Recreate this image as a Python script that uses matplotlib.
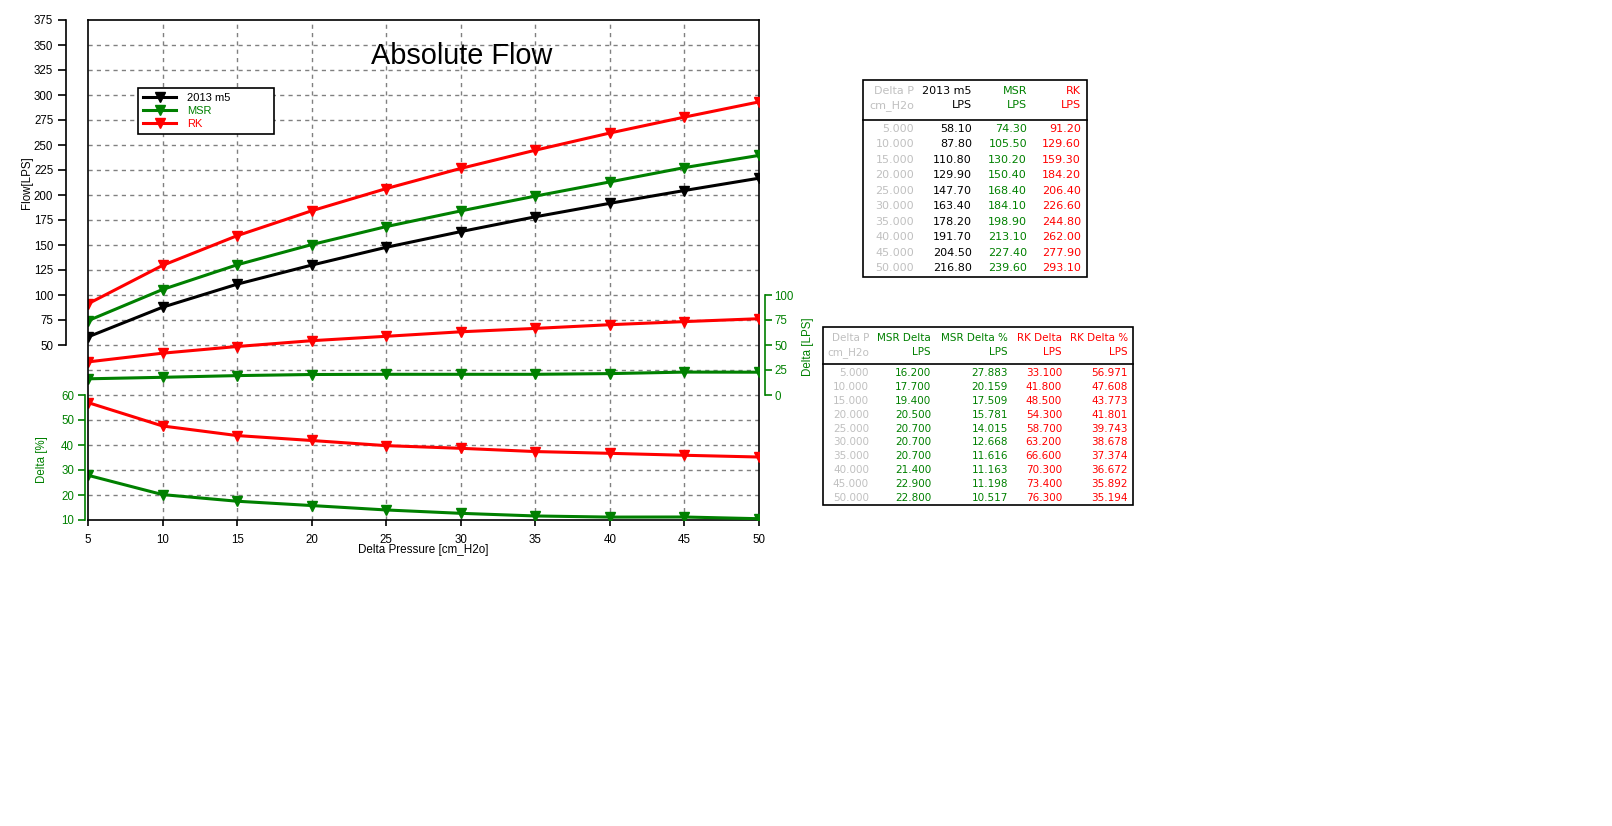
import matplotlib
matplotlib.use('Agg')
import matplotlib.pyplot as plt
from matplotlib.lines import Line2D
from matplotlib.patches import Rectangle

# ---------------- data ----------------
pressure = [5, 10, 15, 20, 25, 30, 35, 40, 45, 50]
flow_2013_m5 = [58.10, 87.80, 110.80, 129.90, 147.70, 163.40, 178.20, 191.70, 204.50, 216.80]
flow_msr = [74.30, 105.50, 130.20, 150.40, 168.40, 184.10, 198.90, 213.10, 227.40, 239.60]
flow_rk = [91.20, 129.60, 159.30, 184.20, 206.40, 226.60, 244.80, 262.00, 277.90, 293.10]
msr_delta_lps = [16.2, 17.7, 19.4, 20.5, 20.7, 20.7, 20.7, 21.4, 22.9, 22.8]
msr_delta_pct = [27.883, 20.159, 17.509, 15.781, 14.015, 12.668, 11.616, 11.163, 11.198, 10.517]
rk_delta_lps = [33.1, 41.8, 48.5, 54.3, 58.7, 63.2, 66.6, 70.3, 73.4, 76.3]
rk_delta_pct = [56.971, 47.608, 43.773, 41.801, 39.743, 38.678, 37.374, 36.672, 35.892, 35.194]

flow_ticks = list(range(50, 376, 25))
lps_ticks = [0, 25, 50, 75, 100]
pct_ticks = [10, 20, 30, 40, 50, 60]

BLACK = 'black'
GREEN = '#008000'
RED = '#ff0000'
GRAY = '#c0c0c0'
GRID = '#808080'

AX_FONT = 'Liberation Sans'
TB_FONT = 'DejaVu Sans'

W, H = 1612, 826
fig = plt.figure(figsize=(W / 100, H / 100), dpi=100)
fig.patch.set_facecolor('white')


def fx(x):
    return x / W


def fy(y):
    return 1 - y / H


rect = [fx(88), fy(520), 671 / W, 500 / H]

ax = fig.add_axes(rect)
ax_pct = fig.add_axes(rect, sharex=ax)
ax_lps = fig.add_axes(rect, sharex=ax)
for a in (ax_pct, ax_lps):
    a.set_facecolor('none')

ax.set_xlim(5, 50)
ax.set_ylim(-125, 375)
ax_lps.set_ylim(-125, 375)
ax_pct.set_ylim(10, 210)

# grid
for yv in range(-100, 375, 25):
    ax.axhline(yv, color=GRID, lw=1, ls=(0, (3, 3)), zorder=0)
for xv in pressure[1:-1]:
    ax.axvline(xv, color=GRID, lw=1, ls=(0, (3, 3)), zorder=0)

# main (flow) axis
ax.spines['left'].set_position(('outward', 16))
ax.spines['left'].set_bounds(50, 375)
for s in ('top', 'right', 'bottom'):
    ax.spines[s].set_color(BLACK)
    ax.spines[s].set_linewidth(1.2)
ax.spines['left'].set_linewidth(1.2)
ax.set_yticks(flow_ticks)
ax.set_xticks(pressure)
ax.tick_params(axis='y', direction='out', length=6, width=1.2, pad=3, labelsize=8.3)
ax.tick_params(axis='x', direction='out', length=4, width=1.2, pad=6, labelsize=8.3)
for lab in ax.get_xticklabels() + ax.get_yticklabels():
    lab.set_fontfamily(AX_FONT)

# percent axis
for s in ('top', 'right', 'bottom'):
    ax_pct.spines[s].set_visible(False)
ax_pct.spines['left'].set_position(('outward', 2))
ax_pct.spines['left'].set_bounds(10, 60)
ax_pct.spines['left'].set_color(GREEN)
ax_pct.spines['left'].set_linewidth(1.2)
ax_pct.set_yticks(pct_ticks)
ax_pct.tick_params(axis='y', direction='out', length=5, width=1.2, pad=3, labelsize=8.3,
                   colors=GREEN)
ax_pct.tick_params(axis='x', bottom=False, labelbottom=False)
for lab in ax_pct.get_yticklabels():
    lab.set_fontfamily(AX_FONT)

# delta LPS axis (right)
for s in ('top', 'bottom'):
    ax_lps.spines[s].set_visible(False)
ax_lps.spines['left'].set_color(BLACK)
ax_lps.spines['left'].set_linewidth(1.2)
ax_lps.spines['right'].set_position(('outward', 4))
ax_lps.spines['right'].set_bounds(0, 100)
ax_lps.spines['right'].set_color(GREEN)
ax_lps.spines['right'].set_linewidth(1.2)
ax_lps.yaxis.tick_right()
ax_lps.set_yticks(lps_ticks)
ax_lps.tick_params(axis='y', direction='out', length=5, width=1.2, pad=2, labelsize=8.3,
                   colors=GREEN)
ax_lps.tick_params(axis='x', bottom=False, labelbottom=False)
for lab in ax_lps.get_yticklabels():
    lab.set_fontfamily(AX_FONT)

LW = 2.2
MS = 7
l_m5, = ax.plot(pressure, flow_2013_m5, color=BLACK, lw=LW, marker='v', ms=MS, zorder=3)
l_msr, = ax.plot(pressure, flow_msr, color=GREEN, lw=LW, marker='v', ms=MS, zorder=3)
l_rk, = ax.plot(pressure, flow_rk, color=RED, lw=LW, marker='v', ms=MS, zorder=3)
ax_lps.plot(pressure, msr_delta_lps, color=GREEN, lw=LW, marker='v', ms=MS)
ax_lps.plot(pressure, rk_delta_lps, color=RED, lw=LW, marker='v', ms=MS)
ax_pct.plot(pressure, msr_delta_pct, color=GREEN, lw=LW, marker='v', ms=MS)
ax_pct.plot(pressure, rk_delta_pct, color=RED, lw=LW, marker='v', ms=MS)

# labels
fig.text(fx(461.5), fy(56), 'Absolute Flow', fontsize=20.8, family=AX_FONT,
         ha='center', va='center')
fig.text(fx(27.5), fy(182.5), 'Flow[LPS]', fontsize=8.3, family=AX_FONT,
         rotation=90, ha='center', va='center')
fig.text(fx(41.5), fy(460), 'Delta [%]', fontsize=8.3, family=AX_FONT, color=GREEN,
         rotation=90, ha='center', va='center')
fig.text(fx(808), fy(347), 'Delta [LPS]', fontsize=8.3, family=AX_FONT, color=GREEN,
         rotation=90, ha='center', va='center')
fig.text(fx(423), fy(550), 'Delta Pressure [cm_H2o]', fontsize=8.4, family=AX_FONT,
         ha='center', va='center')

# legend
leg = ax.legend([l_m5, l_msr, l_rk], ['2013 m5', 'MSR', 'RK'],
                loc='upper left',
                bbox_to_anchor=(fx(138), fy(88) - 44 / H, 136 / W, 44 / H),
                bbox_transform=fig.transFigure, mode='expand',
                prop={'family': AX_FONT, 'size': 8}, frameon=True, fancybox=False,
                framealpha=1, edgecolor=BLACK, borderaxespad=0, borderpad=0.45,
                handlelength=3.0, handletextpad=1.0, labelspacing=0.28)
leg.get_frame().set_linewidth(1.2)
for t, c in zip(leg.get_texts(), [BLACK, GREEN, RED]):
    t.set_color(c)


# tables
def draw_table(box, sep_y, head_y, col_right, row_y0, row_step, headers, head_colors,
               columns, col_colors, fontsize):
    x0, y0, x1, y1 = box
    fig.patches.append(Rectangle((fx(x0), fy(y1)), (x1 - x0) / W, (y1 - y0) / H,
                                 transform=fig.transFigure, fill=False,
                                 edgecolor=BLACK, lw=1.2))
    fig.lines.append(Line2D([fx(x0), fx(x1)], [fy(sep_y), fy(sep_y)],
                            transform=fig.transFigure, color=BLACK, lw=1.2))
    for xr, (h1, h2), hc in zip(col_right, headers, head_colors):
        fig.text(fx(xr), fy(head_y[0]), h1, ha='right', va='center_baseline',
                 fontsize=fontsize, family=TB_FONT, color=hc)
        fig.text(fx(xr), fy(head_y[1]), h2, ha='right', va='center_baseline',
                 fontsize=fontsize, family=TB_FONT, color=hc)
    for xr, (vals, fmt), cc in zip(col_right, columns, col_colors):
        for i, v in enumerate(vals):
            fig.text(fx(xr), fy(row_y0 + i * row_step), fmt % v, ha='right',
                     va='center_baseline', fontsize=fontsize, family=TB_FONT, color=cc)


draw_table((863, 80, 1087, 277), 120, (90, 104), [914, 972, 1027, 1081], 128, 15.44,
           [('Delta P', 'cm_H2o'), ('2013 m5', 'LPS'), ('MSR', 'LPS'), ('RK', 'LPS')],
           [GRAY, BLACK, GREEN, RED],
           [(pressure, '%.3f'), (flow_2013_m5, '%.2f'), (flow_msr, '%.2f'), (flow_rk, '%.2f')],
           [GRAY, BLACK, GREEN, RED], 8)

draw_table((823, 327, 1133, 505), 364, (337, 351), [869, 931, 1008, 1062, 1128], 372, 13.89,
           [('Delta P', 'cm_H2o'), ('MSR Delta', 'LPS'), ('MSR Delta %', 'LPS'),
            ('RK Delta', 'LPS'), ('RK Delta %', 'LPS')],
           [GRAY, GREEN, GREEN, RED, RED],
           [(pressure, '%.3f'), (msr_delta_lps, '%.3f'), (msr_delta_pct, '%.3f'),
            (rk_delta_lps, '%.3f'), (rk_delta_pct, '%.3f')],
           [GRAY, GREEN, GREEN, RED, RED], 7.5)

fig.savefig('out.png', dpi=100)
